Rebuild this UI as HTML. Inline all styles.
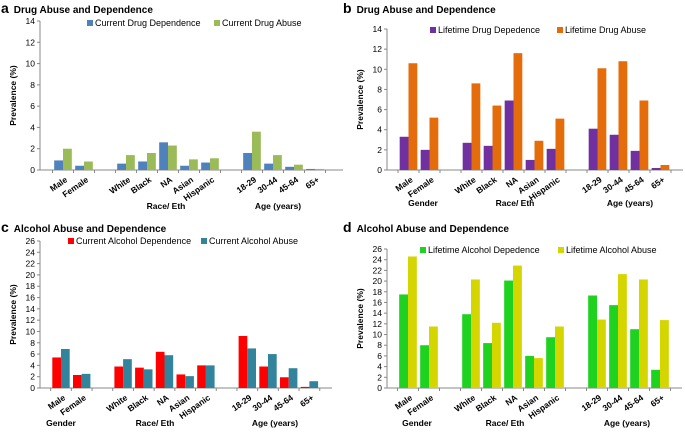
<!DOCTYPE html>
<html><head><meta charset="utf-8"><style>
body{margin:0;background:#fff;width:685px;height:428px;overflow:hidden;font-family:"Liberation Sans",Arial,sans-serif}
svg text{font-family:"Liberation Sans",Arial,sans-serif}
</style></head><body>
<svg id="chart" width="685" height="428" viewBox="0 0 685 428" xmlns="http://www.w3.org/2000/svg"></svg>
<script>
const categories = ["Male","Female","","White","Black","NA","Asian","Hispanic","","18-29","30-44","45-64","65+"];
const aDep = [0.9,0.4,null,0.6,0.8,2.6,0.4,0.7,null,1.6,0.6,0.3,0.1];
const aAbuse = [2.0,0.8,null,1.4,1.6,2.3,1.0,1.1,null,3.6,1.4,0.5,0.1];
const bDep = [3.3,2.0,null,2.7,2.4,6.9,1.0,2.1,null,4.1,3.5,1.9,0.2];
const bAbuse = [10.6,5.2,null,8.6,6.4,11.6,2.9,5.1,null,10.1,10.8,6.9,0.5];
const cDep = [5.4,2.3,null,3.8,3.6,6.4,2.4,4.0,null,9.2,3.8,1.9,0.2];
const cAbuse = [6.9,2.5,null,5.1,3.3,5.8,2.1,4.0,null,7.0,6.0,3.5,1.2];
const dDep = [17.5,8.0,null,13.8,8.4,20.1,6.0,9.5,null,17.3,15.5,11.0,3.4];
const dAbuse = [24.6,11.5,null,20.3,12.2,22.9,5.6,11.5,null,12.8,21.3,20.3,12.7];
const yTicksA = [0,2,4,6,8,10,12,14];
const yTicksC = [0,2,4,6,8,10,12,14,16,18,20,22,24,26];

const NS="http://www.w3.org/2000/svg";
const svg=document.getElementById('chart');
function mk(tag,attrs,parent,txt){const e=document.createElementNS(NS,tag);for(const k in attrs)e.setAttribute(k,attrs[k]);if(txt!==undefined)e.textContent=txt;(parent||svg).appendChild(e);return e;}

function panel(p){
  const g=mk('g',{});
  
  
  const t=mk('text',{x:p.tx,y:p.ty,'font-size':'10','font-weight':'bold',fill:'#000'},g);
  
  
  mk('tspan',{'font-size':'14'},t,p.id);
  mk('tspan',{dx:'5'},t,p.title);
  const ymax=p.ticks[p.ticks.length-1];
  const yS=v=>p.y0-(v/ymax)*(p.y0-p.ytop);
  const xS=i=>p.x0c+i*p.step;
  const ya=mk('line',{x1:p.ax,y1:p.ytop,x2:p.ax,y2:p.y0,stroke:'#888','stroke-width':1},g);
  
  const xa=mk('line',{x1:p.ax,y1:p.y0,x2:p.axEnd,y2:p.y0,stroke:'#888','stroke-width':1},g);
  
  p.ticks.forEach(v=>{
    mk('line',{x1:p.ax-3,y1:yS(v),x2:p.ax,y2:yS(v),stroke:'#888'},g);
    const tl=mk('text',{x:p.ax-5,y:yS(v)+3,'font-size':'8.5','text-anchor':'end',fill:'#000'},g,String(v));
    
  });
  for(let i=0;i<=categories.length;i++){const xx=xS(i)-p.step/2;mk('line',{x1:xx,y1:p.y0,x2:xx,y2:p.y0+3,stroke:'#888'},g);}
  const yt=mk('text',{x:0,y:0,'font-size':'8.5','font-weight':'bold','text-anchor':'middle',transform:`translate(${p.ax-24},${(p.y0+p.ytop)/2}) rotate(-90)`},g,'Prevalence (%)');
  
  const bw=p.step*0.42;
  categories.forEach((c,i)=>{
    [p.s1,p.s2].forEach((s,k)=>{
      const v=s.vals[i]; if(v==null)return;
      const r=mk('rect',{x:xS(i)-bw+k*bw,y:yS(v),width:bw,height:p.y0-yS(v),fill:s.color},g);
      
      
    });
    if(c){
      const l=mk('text',{x:0,y:0,'font-size':'8.5','font-weight':'bold','text-anchor':'end',transform:`translate(${xS(i)+5},${p.y0+11}) rotate(-35)`},g,c);
      
    }
  });
  p.groups.forEach(gr=>{
    const gl=mk('text',{x:gr[1],y:p.gy,'font-size':'8.5','font-weight':'bold','text-anchor':'middle'},g,gr[0]);
    
  });
  [p.s1,p.s2].forEach((s,k)=>{
    const lx=p.leg[k];
    const lr=mk('rect',{x:lx,y:p.ly-6,width:6,height:6,fill:s.color},g);
    
    const lt=mk('text',{x:lx+8,y:p.ly,'font-size':'9',fill:'#000'},g,s.label);
    
  });
}
panel({id:'a',title:'Drug Abuse and Dependence',tx:1,ty:13,ax:40,axEnd:343,y0:170,ytop:21,ticks:yTicksA,x0c:63,step:21,
  s1:{key:'dep',vals:aDep,color:'#4f81bd',label:'Current Drug Dependence'},s2:{key:'abuse',vals:aAbuse,color:'#9bbb59',label:'Current Drug Abuse'},
  groups:[['Race/ Eth',166],['Age (years)',278]],gy:209,leg:[87,214],ly:26});
panel({id:'b',title:'Drug Abuse and Dependence',tx:343,ty:13,ax:387,axEnd:683,y0:170,ytop:29,ticks:yTicksA,x0c:408.5,step:21,
  s1:{key:'dep',vals:bDep,color:'#7030a0',label:'Lifetime Drug Depedence'},s2:{key:'abuse',vals:bAbuse,color:'#e46c0a',label:'Lifetime Drug Abuse'},
  groups:[['Gender',423],['Race/ Eth',515],['Age (years)',630]],gy:206,leg:[430,557],ly:33});
panel({id:'c',title:'Alcohol Abuse and Dependence',tx:1,ty:232,ax:40,axEnd:332,y0:388,ytop:241,ticks:yTicksC,x0c:61,step:20.7,
  s1:{key:'dep',vals:cDep,color:'#ff0000',label:'Current Alcohol Dependence'},s2:{key:'abuse',vals:cAbuse,color:'#31849b',label:'Current Alcohol Abuse'},
  groups:[['Gender',61],['Race/ Eth',155],['Age (years)',275]],gy:426,leg:[68,201],ly:244});
panel({id:'d',title:'Alcohol Abuse and Dependence',tx:343,ty:232,ax:387,axEnd:682,y0:388,ytop:249,ticks:yTicksC,x0c:408,step:21,
  s1:{key:'dep',vals:dDep,color:'#1fd21f',label:'Lifetime Alcohol Depedence'},s2:{key:'abuse',vals:dAbuse,color:'#d5d500',label:'Lifetime Alcohol Abuse'},
  groups:[['Gender',417],['Race/ Eth',505],['Age (years)',627]],gy:426,leg:[420,558],ly:253});
</script>
</body></html>
